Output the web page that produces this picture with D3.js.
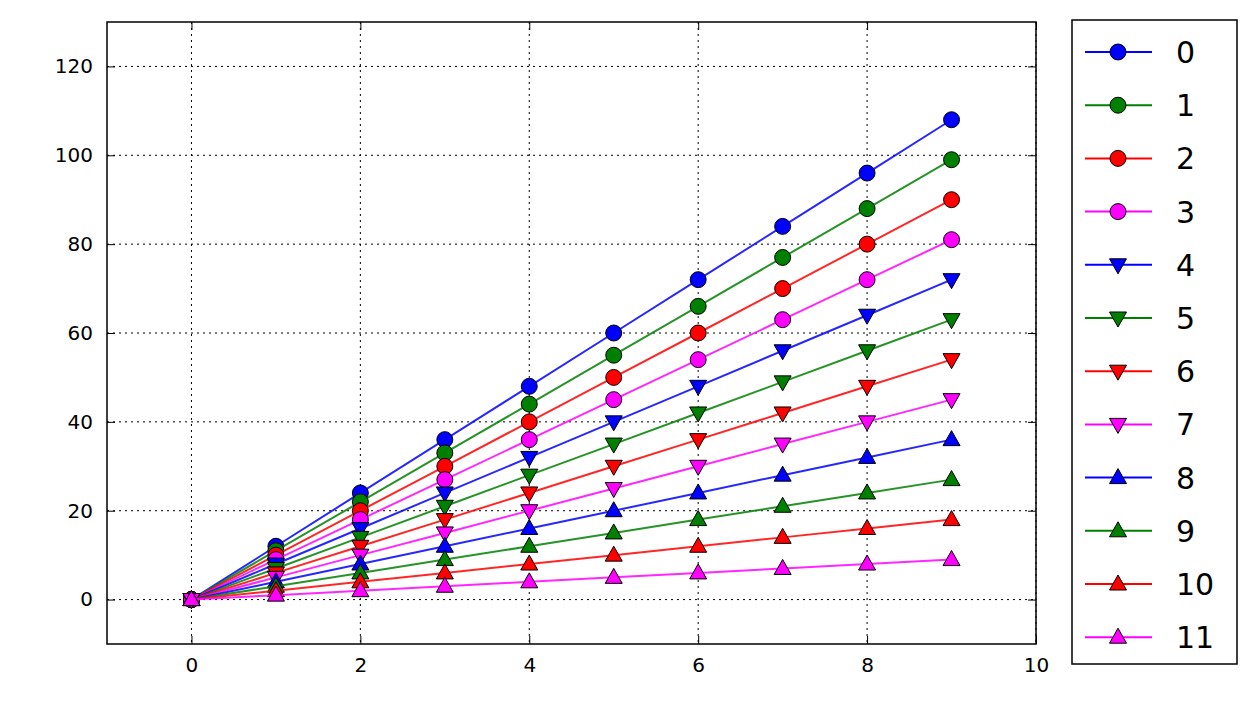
<!DOCTYPE html>
<html><head><meta charset="utf-8">
<script src="https://cdn.jsdelivr.net/npm/d3@7"></script>
<style>body{margin:0;background:#fff}svg{font-family:"DejaVu Sans",sans-serif}</style>
</head><body><svg id="c" width="1252" height="704"></svg>
<script>
const xValues=[0,1,2,3,4,5,6,7,8,9];
const s0=[0,12,24,36,48,60,72,84,96,108];
const s1=[0,11,22,33,44,55,66,77,88,99];
const s2=[0,10,20,30,40,50,60,70,80,90];
const s3=[0,9,18,27,36,45,54,63,72,81];
const s4=[0,8,16,24,32,40,48,56,64,72];
const s5=[0,7,14,21,28,35,42,49,56,63];
const s6=[0,6,12,18,24,30,36,42,48,54];
const s7=[0,5,10,15,20,25,30,35,40,45];
const s8=[0,4,8,12,16,20,24,28,32,36];
const s9=[0,3,6,9,12,15,18,21,24,27];
const s10=[0,2,4,6,8,10,12,14,16,18];
const s11=[0,1,2,3,4,5,6,7,8,9];
const seriesNames=["0","1","2","3","4","5","6","7","8","9","10","11"];
const seriesData=[s0,s1,s2,s3,s4,s5,s6,s7,s8,s9,s10,s11];
const colors=["#0000ff","#008000","#ff0000","#ff00ff"];
const markers=["circle","down","up"];
const xTicks=[0,2,4,6,8,10];
const yTicks=[0,20,40,60,80,100,120];

const svg=d3.select("#c");
const L=107,R=1036,T=22,B=644;
const x=d3.scaleLinear().domain([-1,10]).range([L,R]);
const y=d3.scaleLinear().domain([-10,130]).range([B,T]);
const g=svg.append("g");
// grid
xTicks.forEach(t=>g.append("line").attr("x1",x(t)).attr("x2",x(t)).attr("y1",T).attr("y2",B).attr("stroke","#000").attr("stroke-dasharray","2,4").attr("stroke-width",1));
yTicks.forEach(t=>g.append("line").attr("x1",L).attr("x2",R).attr("y1",y(t)).attr("y2",y(t)).attr("stroke","#000").attr("stroke-dasharray","2,4").attr("stroke-width",1));
// axes
const ax=svg.append("g").attr("transform",`translate(0,${B})`).call(d3.axisBottom(x).tickValues(xTicks).tickSize(-8).tickPadding(14));
const ay=svg.append("g").attr("transform",`translate(${L},0)`).call(d3.axisLeft(y).tickValues(yTicks).tickSize(-8).tickPadding(14));
svg.append("g").attr("transform",`translate(0,${T})`).call(d3.axisTop(x).tickValues(xTicks).tickSize(-8).tickFormat(""));
svg.append("g").attr("transform",`translate(${R},0)`).call(d3.axisRight(y).tickValues(yTicks).tickSize(-8).tickFormat(""));
svg.selectAll(".domain").remove();
svg.selectAll(".tick text").attr("font-size",20).attr("fill","#000").attr("font-family","DejaVu Sans");
svg.append("rect").attr("x",L).attr("y",T).attr("width",R-L).attr("height",B-T).attr("fill","none").attr("stroke","#000").attr("stroke-width",1.5);

function sym(kind){
  if(kind==="circle") return d3.symbol().type(d3.symbolCircle).size(200)();
  if(kind==="up") return "M0,-9L8.5,6L-8.5,6Z";
  return "M0,9L8.5,-6L-8.5,-6Z";
}
const line=d3.line().x((d,i)=>x(xValues[i])).y(d=>y(d));
seriesData.forEach((s,k)=>{
  const c=colors[k%4], m=markers[Math.floor(k/4)];
  g.append("path").attr("d",line(s)).attr("fill","none").attr("stroke",c).attr("stroke-width",2).attr("opacity",0.85);
  s.forEach((v,i)=>g.append("path").attr("d",sym(m)).attr("transform",`translate(${x(xValues[i])},${y(v)})`).attr("fill",c).attr("stroke","#000").attr("stroke-width",1));
});
// legend
const lg=svg.append("g");
lg.append("rect").attr("x",1072).attr("y",20).attr("width",165).attr("height",644).attr("fill","#fff").attr("stroke","#000").attr("stroke-width",1.5);
seriesNames.forEach((n,k)=>{
  const c=colors[k%4], m=markers[Math.floor(k/4)], yy=52+k*53.2;
  lg.append("line").attr("x1",1085).attr("x2",1152).attr("y1",yy).attr("y2",yy).attr("stroke",c).attr("stroke-width",2);
  lg.append("path").attr("d",sym(m)).attr("transform",`translate(1118,${yy})`).attr("fill",c).attr("stroke","#000");
  lg.append("text").attr("x",1176).attr("y",yy+11).attr("font-size",30).text(n);
});
</script></body></html>
